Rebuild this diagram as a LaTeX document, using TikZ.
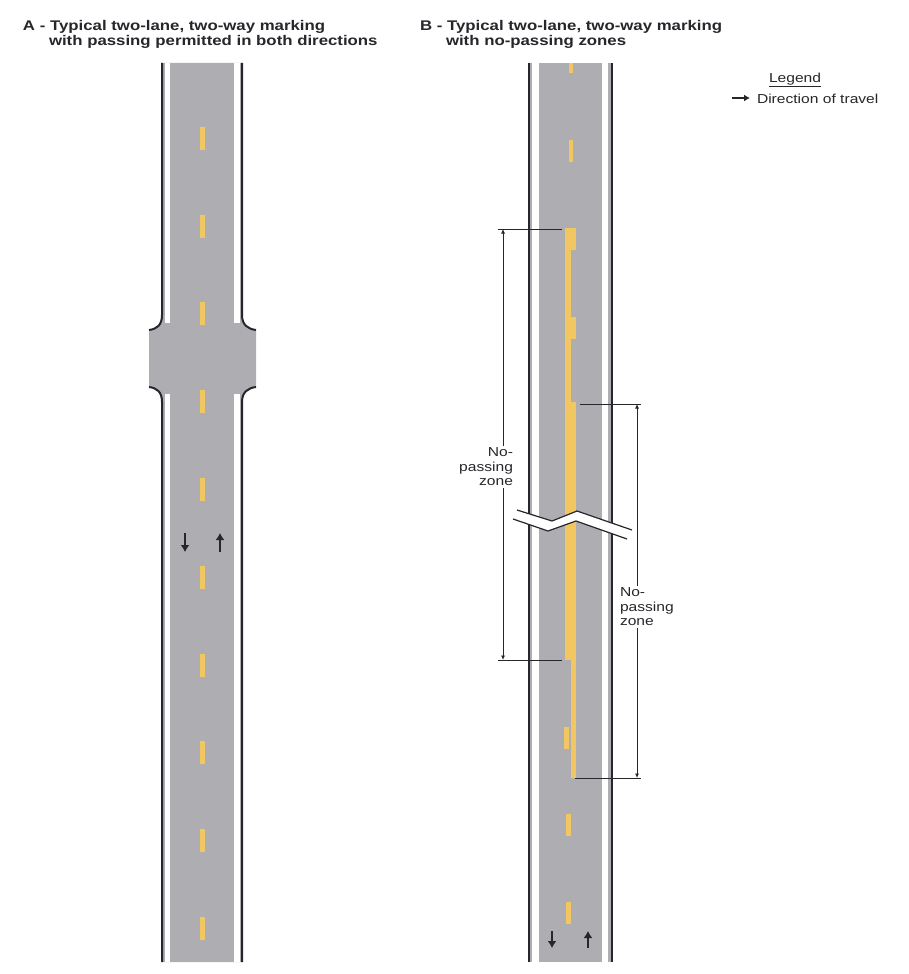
\documentclass[tikz,border=0pt]{standalone}
\usepackage{fontspec}
\setmainfont{Liberation Sans}[FakeStretch=1.2]
\usepackage{tikz}
\usetikzlibrary{arrows.meta,positioning,calc}
\definecolor{roadgray}{rgb}{0.68,0.68,0.70}
\definecolor{lineyellow}{rgb}{0.95,0.78,0.38}
\definecolor{inkblack}{rgb}{0.15,0.15,0.17}
\begin{document}
\begin{tikzpicture}[x=1pt,y=-1pt,inner sep=0pt,outer sep=0pt]
    \tikzset{title/.style={align=left,anchor=north west,font=\bfseries\fontsize{14}{15}\selectfont,text=inkblack}}
    \tikzset{legendtext/.style={anchor=west,font=\fontsize{13}{15}\selectfont,text=inkblack}}
    \tikzset{zonelabel/.style={font=\fontsize{13}{14.5}\selectfont,text=inkblack}}
    \tikzset{curb/.style={draw=inkblack,line width=2pt}}
    \tikzset{edgeline/.style={draw=white,line width=5.5pt}}
    \tikzset{dim/.style={draw=inkblack,line width=0.8pt}}
    \tikzset{dimarrow/.style={dim,-{Latex[length=4.5pt,width=4pt]}}}
    \tikzset{travel/.style={draw=inkblack,line width=2.7pt,-{Latex[length=7pt,width=9pt]}}}
    \useasboundingbox (0,0) rectangle (909,974);

    % titles and legend
    \node [title] (titlea) at (23,20.5) {A - Typical two-lane, two-way marking\\\hspace*{26pt}with passing permitted in both directions};
    \node [title] (titleb) at (420,20.5) {B - Typical two-lane, two-way marking\\\hspace*{26pt}with no-passing zones};
    \node [legendtext] (legend) at (769,79) {Legend};
    \coordinate (legendrulea) at (769,86.5);
    \coordinate (legendruleb) at (821,86.5);
    \draw [dim] (legendrulea) -- (legendruleb);
    \node [legendtext] (travel) at (757,99) {Direction of travel};
    \coordinate (legendtail) at (732,98);
    \coordinate (legendtip) at (750,98);
    \draw [travel,line width=2pt,-{Latex[length=6pt,width=7pt]}] (legendtail) -- (legendtip);

    % road A
    \fill [roadgray] (162,63) -- (162,315) .. controls (162,325) and (157,329) .. (149,330)
        -- (149,387) .. controls (157,388) and (162,392) .. (162,402) -- (162,962)
        -- (242,962) -- (242,402) .. controls (242,392) and (248,388) .. (256,387)
        -- (256,330) .. controls (248,329) and (242,325) .. (242,315) -- (242,63) -- cycle;
    \draw [edgeline] (167.5,63) -- (167.5,323);
    \draw [edgeline] (236.8,63) -- (236.8,323);
    \draw [edgeline] (167.5,394) -- (167.5,962);
    \draw [edgeline] (236.8,394) -- (236.8,962);
    \draw [curb] (162,63) -- (162,315) .. controls (162,325) and (157,329) .. (149,330);
    \draw [curb] (242,63) -- (242,315) .. controls (242,325) and (248,329) .. (256,330);
    \draw [curb] (149,387) .. controls (157,388) and (162,392) .. (162,402) -- (162,962);
    \draw [curb] (256,387) .. controls (248,388) and (242,392) .. (242,402) -- (242,962);
    \foreach \y in {127,215,302,390,478,566,654,741,829,917}
        \fill [lineyellow] (200,\y) rectangle (204.5,\y+23);
    \coordinate (atailleft) at (185,533);
    \coordinate (atipleft) at (185,552);
    \coordinate (atailright) at (220,552);
    \coordinate (atipright) at (220,533);
    \draw [travel] (atailleft) -- (atipleft);
    \draw [travel] (atailright) -- (atipright);

    % road B
    \fill [roadgray] (529,63) rectangle (612,962);
    \draw [edgeline,line width=7pt] (535.5,63) -- (535.5,962);
    \draw [edgeline] (605,63) -- (605,962);
    \draw [curb] (529,63) -- (529,962);
    \draw [curb] (612,63) -- (612,962);
    \fill [lineyellow] (568.5,63) rectangle (573,73);
    \fill [lineyellow] (568.5,140) rectangle (573,162);
    \foreach \y in {228,317}
        \fill [lineyellow] (567,\y) rectangle (576,\y+22);
    \fill [lineyellow] (565,228) rectangle (571,660);
    \fill [lineyellow] (571,402) rectangle (576,778);
    \fill [lineyellow] (563.5,727) rectangle (569,749);
    \foreach \y in {814,902}
        \fill [lineyellow] (566,\y) rectangle (570.5,\y+22);
    \coordinate (btailleft) at (552,931);
    \coordinate (btipleft) at (552,948);
    \coordinate (btailright) at (588,948);
    \coordinate (btipright) at (588,931);
    \draw [travel] (btailleft) -- (btipleft);
    \draw [travel] (btailright) -- (btipright);

    % break in road B
    \fill [white] (517,510) -- (552,521) -- (577,511) -- (632,530)
        -- (627,539) -- (576,521) -- (548,531) -- (513,519) -- cycle;
    \draw [dim,line width=1.2pt] (517,510) -- (552,521) -- (577,511) -- (632,530);
    \draw [dim,line width=1.2pt] (513,519) -- (548,531) -- (576,521) -- (627,539);

    % no-passing zones
    \coordinate (zoneatop) at (503,229);
    \coordinate (zoneabottom) at (503,660);
    \coordinate (zonebtop) at (637,404);
    \coordinate (zonebbottom) at (637,778);
    \node [zonelabel,align=right,anchor=east] (zonea) at (513,467) {No-\\passing\\zone};
    \node [zonelabel,align=left,anchor=west] (zoneb) at (620,607) {No-\\passing\\zone};
    \draw [dimarrow] (zonea.north -| zoneatop) ++(0,-2) -- (zoneatop);
    \draw [dimarrow] (zonea.south -| zoneabottom) ++(0,2) -- (zoneabottom);
    \draw [dimarrow] (zoneb.north -| zonebtop) ++(0,-2) -- (zonebtop);
    \draw [dimarrow] (zoneb.south -| zonebbottom) ++(0,2) -- (zonebbottom);
    \draw [dim] (498,229) -- (562,229);
    \draw [dim] (498,660) -- (562,660);
    \draw [dim] (580,404) -- (641,404);
    \draw [dim] (575,778) -- (641,778);
\end{tikzpicture}
\end{document}
